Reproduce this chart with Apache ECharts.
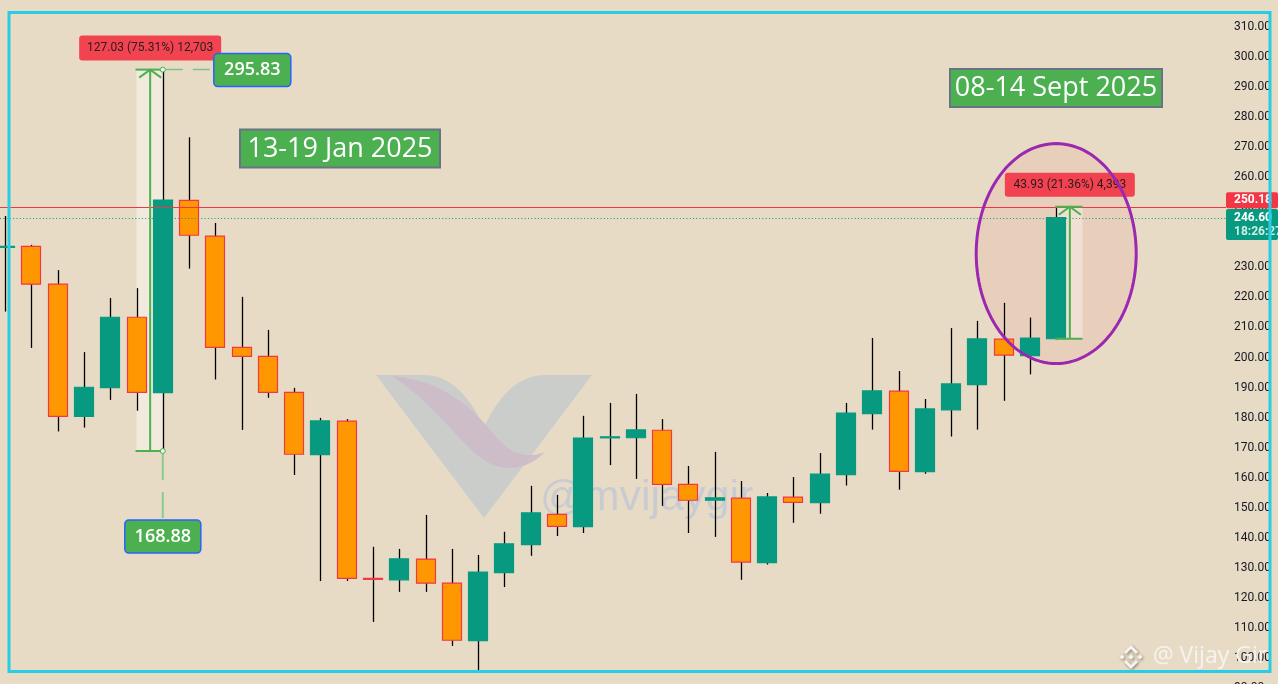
<!DOCTYPE html>
<html><head><meta charset="utf-8">
<script src="https://cdn.jsdelivr.net/npm/echarts@6/dist/echarts.min.js"></script>
<style>html,body{margin:0;padding:0;background:#E8DBC5;overflow:hidden}#c{width:1278px;height:684px}</style>
</head><body><div id="c"></div>
<script>
// Weekly candles (week start dates), last 6 are empty future slots
const weeks = ['2024-12-02','2024-12-09','2024-12-16','2024-12-23','2024-12-30','2025-01-06','2025-01-13','2025-01-20','2025-01-27','2025-02-03','2025-02-10','2025-02-17','2025-02-24','2025-03-03','2025-03-10','2025-03-17','2025-03-24','2025-03-31','2025-04-07','2025-04-14','2025-04-21','2025-04-28','2025-05-05','2025-05-12','2025-05-19','2025-05-26','2025-06-02','2025-06-09','2025-06-16','2025-06-23','2025-06-30','2025-07-07','2025-07-14','2025-07-21','2025-07-28','2025-08-04','2025-08-11','2025-08-18','2025-08-25','2025-09-01','2025-09-08','2025-09-15','2025-09-22','2025-09-29','2025-10-06','2025-10-13','2025-10-20'];
const opens  = [236.9,237.0,224.4,180.4,190.0,213.4,188.3,252.3,240.4,203.4,200.4,188.4,167.7,178.8,126.5,126.0,132.9,124.9,105.8,128.4,137.7,147.8,143.7,173.4,173.3,175.8,157.8,152.5,153.2,131.7,153.5,151.7,161.0,181.3,188.8,162.0,182.6,191.0,206.1,200.6,206.25];
const closes = [237.0,224.4,180.4,190.1,213.4,188.4,252.4,240.7,203.4,200.4,188.4,167.8,178.9,126.5,126.3,133.0,124.9,105.9,128.6,138.0,148.3,143.8,173.2,173.6,175.9,157.8,152.5,153.3,131.9,153.6,151.8,161.2,181.5,188.9,162.1,182.9,191.2,206.2,200.8,206.5,246.60];
const lows   = [215.3,203.2,175.4,176.7,185.9,182.3,168.88,229.6,192.7,175.9,186.6,160.9,125.6,125.6,112.0,122.0,122.0,104.0,95.8,123.6,134.0,140.6,141.6,164.2,159.6,150.6,141.6,140.3,126.0,131.1,145.0,148.0,157.4,176.0,156.0,161.3,173.7,176.0,185.6,194.4,206.0];
const highs  = [247.1,237.5,229.1,201.8,219.8,223.1,295.83,273.3,244.8,220.2,209.2,189.9,179.9,179.5,137.0,136.3,147.6,136.3,134.3,142.0,157.3,154.3,180.6,184.9,187.9,179.5,163.9,168.6,158.9,154.9,160.2,168.2,184.9,206.5,195.5,186.2,209.8,212.2,218.2,213.3,250.18];
const yMin = 90, yMax = 320, yStep = 10;
const lastHigh = 250.18, lastClose = 246.60;
const move1 = {from: 5, to: 6, low: 168.88, high: 295.83, text: '127.03 (75.31%) 12,703'};
const move2 = {from: 40, to: 41, low: 206.25, high: 250.18, text: '43.93 (21.36%) 4,393'};

const candleData = opens.map((o, i) => [i, o, closes[i], lows[i], highs[i]]);

const chart = echarts.init(document.getElementById('c'), null, {renderer: 'canvas'});

function renderCandle(params, api) {
  const i = api.value(0), o = api.value(1), c = api.value(2), l = api.value(3), h = api.value(4);
  const po = api.coord([i, o]), pc = api.coord([i, c]);
  const yl = api.coord([i, l])[1], yh = api.coord([i, h])[1];
  const x = po[0];
  const bw = Math.round(api.size([1, 0])[0] * 0.77);
  const bull = c >= o;
  const top = Math.min(po[1], pc[1]), bot = Math.max(po[1], pc[1]);
  const hgt = Math.max(bot - top, 1);
  const wx = Math.round(x) + 0.5;
  return {type: 'group', children: [
    {type: 'line', shape: {x1: wx, y1: yh, x2: wx, y2: yl}, style: {stroke: '#000', lineWidth: 1.3}},
    {type: 'rect', shape: {x: Math.round(x - bw / 2) + 0.5, y: top, width: bw - 1, height: hgt},
     style: {fill: bull ? '#089981' : '#FF9800', stroke: bull ? '#089981' : '#F23645', lineWidth: 1.2}}
  ]};
}

chart.setOption({
  backgroundColor: '#E8DBC5',
  animation: false,
  grid: {left: -8, right: 51, top: -3, bottom: -4, outerBoundsMode: 'none', containLabel: false},
  xAxis: {type: 'category', data: weeks, boundaryGap: true, show: false},
  yAxis: {type: 'value', position: 'right', min: yMin, max: yMax, interval: yStep,
    axisLine: {show: false}, axisTick: {show: false}, splitLine: {show: false},
    axisLabel: {margin: 7, color: '#131722', fontFamily: 'Roboto', fontSize: 12, formatter: v => v.toFixed(2)}},
  series: [{
    type: 'custom', renderItem: renderCandle, data: candleData, clip: false, z: 5,
    encode: {x: 0, y: [1, 2, 3, 4]}
  }]
});

function P(i, v) { return chart.convertToPixel({xAxisIndex: 0, yAxisIndex: 0}, [i, v]); }
function rect(x, y, w, h, style, z, r) { return {type: 'rect', shape: {x, y, width: w, height: h, r: r || 0}, style, z: z, silent: true}; }
function text(x, y, s, font, fill, align, z, extra) {
  return {type: 'text', x, y, z: z, silent: true, style: Object.assign({text: s, font, fill, textAlign: align || 'center', textVerticalAlign: 'middle', align: align || 'center', verticalAlign: 'middle'}, extra || {})};
}
function line(x1, y1, x2, y2, style, z) { return {type: 'line', shape: {x1, y1, x2, y2}, style, z: z, silent: true}; }
function ellipsePts(cx, cy, rx, ry) {
  const pts = [];
  for (let k = 0; k < 120; k++) { const t = k / 120 * Math.PI * 2; pts.push([cx + rx * Math.cos(t), cy + ry * Math.sin(t)]); }
  return pts;
}
function bez(p0, p1, p2, p3, n) {
  const out = [];
  for (let k = 0; k <= n; k++) {
    const t = k / n, u = 1 - t;
    out.push([u*u*u*p0[0] + 3*u*u*t*p1[0] + 3*u*t*t*p2[0] + t*t*t*p3[0], u*u*u*p0[1] + 3*u*u*t*p1[1] + 3*u*t*t*p2[1] + t*t*t*p3[1]]);
  }
  return out;
}

const G = [];
const green = '#4CAF50';

// watermark logo & text (under candles)
const vPts = [[376, 375], [424, 375]].concat(bez([424, 375], [452, 375], [470, 398], [484, 427], 12)).concat(bez([484, 427], [498, 398], [516, 375], [546, 375], 12)).concat([[592, 375], [484, 518]]);
G.push({type: 'polygon', z: 1, silent: true, shape: {points: vPts}, style: {fill: '#C7CBCA', opacity: 0.9}});
const sPts = bez([392, 376], [440, 380], [470, 405], [492, 432], 12).concat(bez([492, 432], [505, 448], [520, 462], [545, 452], 8)).concat(bez([545, 452], [528, 470], [505, 472], [487, 462], 8)).concat(bez([487, 462], [460, 446], [440, 408], [392, 376], 12));
G.push({type: 'polygon', z: 1, silent: true, shape: {points: sPts}, style: {fill: '#CDBBC8', opacity: 0.9}});
G.push(text(540, 477, '@mvijaygir', '43px "Liberation Sans", Arial, sans-serif', '#C6CAD2', 'left', 1, {textVerticalAlign: 'alphabetic', verticalAlign: 'alphabetic', opacity: 0.95}));

// ellipse fill
const ec = P(move2.from, 234.6);
G.push({type: 'polygon', z: 1, silent: true, shape: {points: ellipsePts(ec[0], ec[1], 80, 110)}, style: {fill: 'rgba(242,54,69,0.07)'}});

// last-price lines (positioned from the price scale)
(function () {
  const y1 = Math.round(P(0, lastHigh)[1]), y2 = Math.round(P(0, lastClose)[1]) + 0.5;
  G.push(rect(0, y1, 1226, 1, {fill: '#F23645', stroke: null}, 6));
  G.push(line(0, y2, 1226, y2, {stroke: '#089981', lineWidth: 1, lineDash: [1, 2.3]}, 6));
})();

// measurement 1
(function () {
  const a = P(move1.from, move1.high), b = P(move1.to, move1.low);
  const mid = (a[0] + b[0]) / 2 + 0.5;
  G.push(rect(a[0], a[1], b[0] - a[0], b[1] - a[1], {fill: 'rgba(255,255,255,0.42)'}, 3));
  G.push(line(a[0] - 1, a[1], b[0], a[1], {stroke: green, lineWidth: 2}, 8));
  G.push(line(a[0] - 1, b[1], b[0], b[1], {stroke: green, lineWidth: 2}, 8));
  G.push(line(mid, b[1], mid, a[1], {stroke: green, lineWidth: 2}, 8));
  G.push({type: 'polyline', z: 8, silent: true, shape: {points: [[mid - 11, a[1] + 8], [mid, a[1]], [mid + 11, a[1] + 8]]}, style: {stroke: green, lineWidth: 2, fill: null}});
  G.push(line(b[0] + 3, a[1], b[0] + 51, a[1], {stroke: '#7FC383', lineWidth: 1.5, lineDash: [17, 10]}, 8));
  G.push(line(b[0], b[1] + 3, b[0], b[1] + 69, {stroke: '#8CCB8F', lineWidth: 2, lineDash: [26, 12]}, 8));
  G.push({type: 'circle', z: 9, silent: true, shape: {cx: b[0], cy: a[1], r: 2.5}, style: {fill: '#E9F5E9', stroke: green, lineWidth: 1}});
  G.push({type: 'circle', z: 9, silent: true, shape: {cx: b[0], cy: b[1], r: 2.5}, style: {fill: '#E9F5E9', stroke: green, lineWidth: 1}});
  G.push(rect(mid - 71, a[1] - 34, 142, 25, {fill: 'rgba(242,54,69,0.92)'}, 9, 3));
  G.push(text(mid, a[1] - 21.5, move1.text, '12px Roboto, sans-serif', '#2A1B1D', 'center', 10));
  G.push(rect(b[0] + 51, a[1] - 16, 77, 33, {fill: green, stroke: '#2962FF', lineWidth: 1.5}, 9, 4));
  G.push(text(b[0] + 89.5, a[1] + 0.5, move1.high.toFixed(2), '600 18px "Open Sans", sans-serif', '#fff', 'center', 10));
  G.push(rect(b[0] - 38, b[1] + 69, 76, 33, {fill: green, stroke: '#2962FF', lineWidth: 1.5}, 9, 4));
  G.push(text(b[0], b[1] + 86, move1.low.toFixed(2), '600 18px "Open Sans", sans-serif', '#fff', 'center', 10));
})();

// measurement 2
(function () {
  const a = P(move2.from, move2.high), b = P(move2.to, move2.low);
  const mid = (a[0] + b[0]) / 2 + 0.5;
  G.push(rect(a[0], a[1], b[0] - a[0], b[1] - a[1], {fill: 'rgba(255,255,255,0.35)'}, 3));
  G.push(line(a[0] - 1, a[1], b[0], a[1], {stroke: green, lineWidth: 2}, 8));
  G.push(line(a[0] - 1, b[1], b[0], b[1], {stroke: green, lineWidth: 2}, 8));
  G.push(line(mid, b[1], mid, a[1], {stroke: green, lineWidth: 2}, 8));
  G.push({type: 'polyline', z: 8, silent: true, shape: {points: [[mid - 11, a[1] + 8], [mid, a[1]], [mid + 11, a[1] + 8]]}, style: {stroke: green, lineWidth: 2, fill: null}});
  G.push(rect(mid - 65, a[1] - 34, 130, 24, {fill: 'rgba(242,54,69,0.92)'}, 9, 3));
  G.push(text(mid, a[1] - 21.5, move2.text, '12px Roboto, sans-serif', '#2A1B1D', 'center', 10));
})();

// ellipse stroke on top
G.push({type: 'polygon', z: 11, silent: true, shape: {points: ellipsePts(ec[0], ec[1], 80, 110)}, style: {fill: null, stroke: '#9C27B0', lineWidth: 3}});

// callout boxes
G.push(rect(240, 129.5, 200, 38, {fill: green, stroke: '#687385', lineWidth: 2}, 12));
G.push(text(340, 149, '13-19 Jan 2025', '27px "Open Sans", sans-serif', '#fff', 'center', 13));
G.push(rect(950, 69, 212, 38, {fill: green, stroke: '#687385', lineWidth: 2}, 12));
G.push(text(1056, 88.5, '08-14 Sept 2025', '27px "Open Sans", sans-serif', '#fff', 'center', 13));

// axis price tags
(function () {
  const y1 = P(0, lastHigh)[1], y2 = P(0, lastClose)[1];
  const x0 = 1226;
  G.push(rect(x0, y1 - 14.5, 52, 16, {fill: '#F23645'}, 20, 2));
  G.push(text(x0 + 8, y1 - 6.5, lastHigh.toFixed(2), 'bold 12px Roboto, sans-serif', '#fff', 'left', 21));
  G.push(rect(x0, y2 - 8.5, 52, 31, {fill: '#089981'}, 20, 2));
  G.push(text(x0 + 8, y2, lastClose.toFixed(2), 'bold 12px Roboto, sans-serif', '#fff', 'left', 21));
  G.push(text(x0 + 8, y2 + 14.5, '18:26:27', 'bold 12px Roboto, sans-serif', '#CDEDE6', 'left', 21));
})();

// bottom-right watermark
(function () {
  const sh = {shadowColor: 'rgba(0,0,0,0.45)', shadowBlur: 3, shadowOffsetX: 1, shadowOffsetY: 1};
  const cx = 1131, cy = 657;
  const d = (x, y, s) => ({type: 'polygon', z: 30, silent: true, shape: {points: [[x, y - s], [x + s, y], [x, y + s], [x - s, y]]}, style: Object.assign({fill: '#F7F3EE'}, sh)});
  const chev = (dir) => ({type: 'polyline', z: 30, silent: true, shape: {points: [[cx - 6, cy + dir * 4], [cx, cy + dir * 10], [cx + 6, cy + dir * 4]]}, style: Object.assign({stroke: '#F7F3EE', lineWidth: 3, fill: null}, sh)});
  G.push(chev(-1)); G.push(chev(1));
  G.push(d(cx - 9, cy, 2.6)); G.push(d(cx + 9, cy, 2.6)); G.push(d(cx, cy, 2.8));
  G.push(text(1153, 656, '@ Vijay Gir', '23px "Open Sans", sans-serif', '#F7F3EE', 'left', 30, sh));
})();

// cyan frame
G.push(rect(9, 12.5, 1261, 659, {fill: null, stroke: '#27CDE4', lineWidth: 3}, 40));

chart.setOption({graphic: {elements: G}});
</script>
</body></html>
